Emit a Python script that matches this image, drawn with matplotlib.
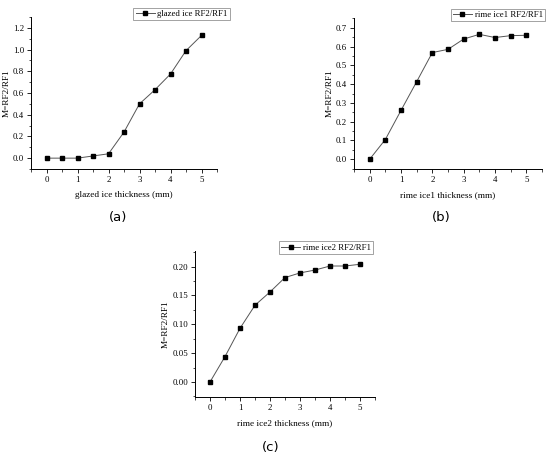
import matplotlib
matplotlib.use('Agg')
import matplotlib.pyplot as plt
from matplotlib.ticker import MultipleLocator, AutoMinorLocator

plt.rcParams['font.family'] = ['Liberation Serif', 'DejaVu Serif']

# thickness (mm), shared by all three panels
thickness = [0, 0.5, 1, 1.5, 2, 2.5, 3, 3.5, 4, 4.5, 5]

glazed = [0.0, 0.0, 0.0, 0.02, 0.04, 0.24, 0.50, 0.63, 0.775, 0.99, 1.13]
rime1 = [0.0, 0.105, 0.26, 0.413, 0.568, 0.585, 0.64, 0.665, 0.648, 0.658, 0.66]
rime2 = [0.0, 0.044, 0.093, 0.133, 0.156, 0.181, 0.189, 0.194, 0.201, 0.201, 0.204]

W, H = 550, 453
fig = plt.figure(figsize=(W / 100, H / 100), dpi=100)


def px_axes(left, right, top, bottom):
    # axes box given in pixel coords of the figure (origin top-left)
    return fig.add_axes([left / W, (H - bottom) / H, (right - left) / W, (bottom - top) / H])


def panel(ax, y, label, xlabel, ylim, ymajor, leg_x, fmt):
    ax.plot(thickness, y, color='#555555', lw=0.7, marker='s', ms=3.4,
            mfc='black', mec='black', label=label)
    ax.set_xlim(-0.5, 5.5)
    ax.set_ylim(*ylim)
    ax.xaxis.set_major_locator(MultipleLocator(1))
    ax.xaxis.set_minor_locator(AutoMinorLocator(2))
    ax.yaxis.set_major_locator(MultipleLocator(ymajor))
    ax.yaxis.set_minor_locator(AutoMinorLocator(2))
    ax.yaxis.set_major_formatter(fmt)
    for s in ['top', 'right']:
        ax.spines[s].set_visible(False)
    for s in ['left', 'bottom']:
        ax.spines[s].set_linewidth(0.7)
    ax.tick_params(which='major', length=3, width=0.6, labelsize=6.3, pad=2)
    ax.tick_params(which='minor', length=1.8, width=0.5)
    ax.set_xlabel(xlabel, fontsize=6.7, labelpad=5)
    ax.set_ylabel('M=RF2/RF1', fontsize=6.7, labelpad=1.5)
    leg = ax.legend(loc='lower right', bbox_to_anchor=(leg_x, 0.98), fontsize=6.3,
                    frameon=True, fancybox=False, edgecolor='#777777',
                    borderpad=0.25, handlelength=2.2, handletextpad=0.3,
                    borderaxespad=0)
    leg.get_frame().set_linewidth(0.6)


ax_a = px_axes(31, 217, 17, 169)
panel(ax_a, glazed, 'glazed ice RF2/RF1', 'glazed ice thickness (mm)',
      (-0.1, 1.3), 0.2, 1.07, '{x:.1f}')

ax_b = px_axes(354, 542, 18, 169)
panel(ax_b, rime1, 'rime ice1 RF2/RF1', 'rime ice1 thickness (mm)',
      (-0.052, 0.752), 0.1, 1.016, '{x:.1f}')

ax_c = px_axes(195, 375, 251, 397)
panel(ax_c, rime2, 'rime ice2 RF2/RF1', 'rime ice2 thickness (mm)',
      (-0.026, 0.227), 0.05, 0.99, '{x:.2f}')

for x, y, t in [(118, 218, '(a)'), (441, 218, '(b)'), (271, 447, '(c)')]:
    fig.text(x / W, 1 - y / H, t, ha='center', va='center', fontsize=9.5,
             family=['DejaVu Sans'])

fig.savefig('out.png', dpi=100)
